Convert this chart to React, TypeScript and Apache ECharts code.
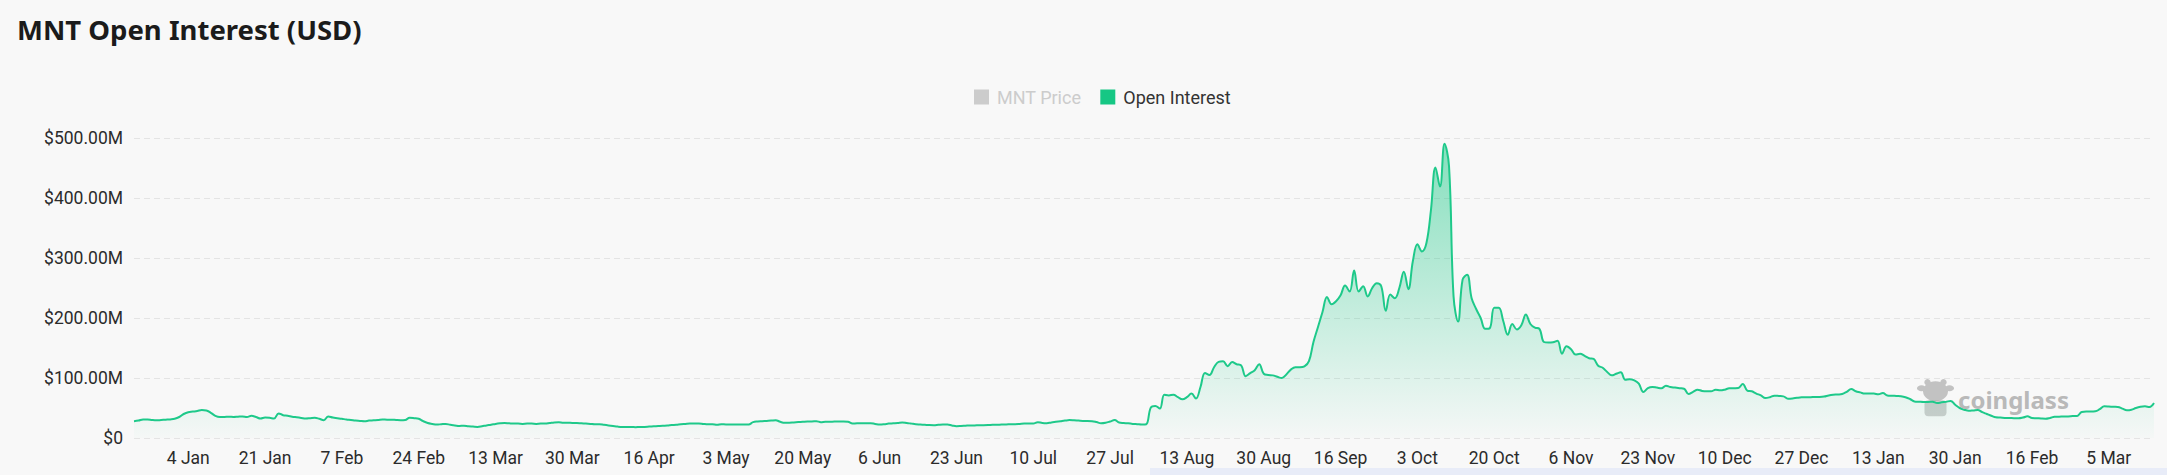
import React, { useEffect, useRef } from 'react';
import * as echarts from 'echarts';

// first category date (daily data)
const START_DATE = '2024-12-23';

// Open interest, in millions of USD, one value per day from START_DATE
const OPEN_INTEREST_M: number[] = [
  28, 29, 31, 31, 30, 29.5, 30, 30.5, 31, 32, 35, 40,
  43, 44, 45, 46.5, 46, 42, 37, 35, 35, 35.5,
  35, 35.5, 36, 35, 37, 35, 32.5, 34, 33.6, 32.5,
  41, 38, 37, 35.5, 34.5, 33.5, 32.5, 33, 33.6, 32,
  29.7, 36, 34, 33, 32, 30.8, 30, 29, 28.5, 28,
  29, 29.5, 30, 30.8, 30.5, 30.5, 30, 29.7, 30, 33.6,
  33, 32, 28, 25, 23.5, 22.4, 23, 23.5, 22, 21,
  20, 20.5, 19.5, 19, 18.5, 19.5, 21, 22, 23.5, 24.5,
  25, 24.5, 24, 24, 23.5, 24, 24, 23.5, 24, 24,
  25, 26, 26.3, 25.5, 25.5, 25, 25, 24.5, 24, 23.5,
  23, 23, 22, 21, 20, 19, 18.5, 18.5, 18.5, 18,
  18.5, 18.5, 19, 19.5, 20, 20.5, 20.7, 21.5, 22, 23,
  23.5, 24, 24, 24.2, 23.5, 23, 23, 22, 23, 22.5,
  22.5, 22.5, 22.5, 22.5, 22.5, 26.4, 27.5, 28, 28.5, 29,
  29.7, 27, 25.3, 25.5, 26, 26.5, 27, 27.5, 27.5, 28,
  26.4, 27, 27, 27.5, 27.5, 27.5, 27, 24.2, 24.5, 24.5,
  24.7, 24.7, 23.5, 22.5, 23, 24, 24.5, 25, 25.8, 25,
  24, 23, 22.5, 22, 21.5, 21.4, 22, 22.5, 22.5, 21,
  19.7, 20, 20.5, 21, 21, 21.4, 21.4, 21.5, 22, 22,
  22.5, 22.5, 23, 23, 23.5, 24, 24, 24.2, 26.4, 25,
  24.7, 26, 27, 28, 29, 29.8, 29.5, 29, 28.5, 28.5,
  28, 26.5, 24.7, 25.5, 27.5, 29.8, 25.8, 25, 24.5, 23.5,
  23, 22.5, 23, 50.6, 53.4, 49, 72, 71, 72, 68,
  64.6, 68, 74, 65.8, 85, 108.5, 105, 118, 127, 128,
  119.7, 126.5, 123, 121, 103, 108, 113, 123, 107, 105,
  104.4, 102, 100, 106, 114, 118, 118, 119.4, 128, 160,
  185, 210, 235, 223, 228, 238, 254, 244, 279, 244,
  253, 236, 250, 258, 253, 212, 239, 233, 250, 277,
  248, 295, 323, 311, 325, 380, 451, 419, 490.5, 453,
  236, 194, 264, 272, 233, 215, 200, 182, 183, 217,
  217, 195, 172, 190, 181, 188, 206, 190, 184, 182,
  160, 159, 159.5, 162, 140.5, 152.8, 148, 139, 140.5, 137,
  133, 131.7, 120.5, 117, 110, 104.4, 107, 109.4, 97, 98,
  96, 90.5, 76.7, 83, 85, 84, 82.8, 87.2, 85, 84,
  83, 82.2, 73.3, 77, 80.5, 78.5, 77.8, 77.8, 80.5, 79.4,
  80.5, 82.8, 83, 83.3, 90, 79, 77.8, 74, 71, 66.7,
  68, 70.5, 70, 69.4, 65.6, 66, 67, 67.8, 68, 68,
  68.5, 68.5, 69, 71, 72.2, 72.5, 73.3, 77, 81.7, 78,
  76, 74, 74, 74, 72.8, 75, 71, 70.5, 70, 69.5,
  68, 65, 61, 60.5, 60, 60, 60.5, 58.3, 59.4, 60.5,
  61.7, 55.5, 50, 47.2, 45.5, 46, 46.7, 43, 40, 37,
  34.4, 34, 33.5, 33.3, 33, 32.8, 34, 36.1, 33.3, 33,
  32.5, 32.2, 33.5, 35.5, 35.5, 36, 36, 36.5, 36.7, 43.3,
  44, 44, 44.4, 48, 52.8, 52.5, 52, 51.7, 49, 46.1,
  47, 50, 52, 52.8, 51.7, 58.3,
];

// hidden (legend-deselected) series
const MNT_PRICE: number[] = [];

// y axis ticks in millions of USD
const Y_MIN = 0;
const Y_MAX = 500;
const Y_STEP = 100;

// x axis label cadence: first label at index 12 (4 Jan), then every 17 days
const FIRST_LABEL_INDEX = 12;
const LABEL_STEP = 17;

const MONTHS = ['Jan', 'Feb', 'Mar', 'Apr', 'May', 'Jun', 'Jul', 'Aug', 'Sep', 'Oct', 'Nov', 'Dec'];

function buildDates(start: string, n: number): string[] {
  const base = new Date(start + 'T00:00:00Z').getTime();
  const out: string[] = [];
  for (let i = 0; i < n; i++) {
    out.push(new Date(base + i * 86400000).toISOString().slice(0, 10));
  }
  return out;
}

const LABEL_FONT = 'Roboto';

export default function App() {
  const ref = useRef<HTMLDivElement>(null);

  useEffect(() => {
    if (!ref.current) return;
    const chart = echarts.init(ref.current, undefined, { renderer: 'svg' });
    const dates = buildDates(START_DATE, OPEN_INTEREST_M.length);

    chart.setOption({
      animation: false,
      backgroundColor: '#f8f8f8',
      title: {
        text: 'MNT Open Interest (USD)',
        left: 12,
        top: 10,
        textStyle: {
          fontFamily: 'Noto Sans',
          fontSize: 27.5,
          fontWeight: 'bold',
          color: '#1b1b1b',
        },
      },
      legend: {
        left: 969,
        top: 83,
        itemWidth: 15,
        itemHeight: 15,
        itemGap: 19,
        icon: 'rect',
        inactiveColor: '#cccccc',
        selected: { 'MNT Price': false },
        textStyle: {
          fontFamily: LABEL_FONT,
          fontSize: 18,
          color: '#333333',
          padding: [0, 0, 0, 3],
        },
        data: ['MNT Price', 'Open Interest'],
      },
      grid: {
        left: 134,
        right: 13,
        top: 138,
        bottom: 37,
        containLabel: false,
      },
      xAxis: {
        type: 'category',
        boundaryGap: false,
        data: dates,
        axisLine: { show: false },
        axisTick: { show: false },
        splitLine: { show: false },
        axisLabel: {
          interval: (index: number) =>
            index >= FIRST_LABEL_INDEX && (index - FIRST_LABEL_INDEX) % LABEL_STEP === 0,
          formatter: (v: string) => {
            const d = new Date(v + 'T00:00:00Z');
            return `${d.getUTCDate()} ${MONTHS[d.getUTCMonth()]}`;
          },
          margin: 11,
          fontFamily: LABEL_FONT,
          fontSize: 17.5,
          color: '#2b2b2b',
        },
      },
      yAxis: {
        type: 'value',
        min: Y_MIN,
        max: Y_MAX,
        interval: Y_STEP,
        axisLine: { show: false },
        axisTick: { show: false },
        axisLabel: {
          formatter: (v: number) => (v === 0 ? '$0' : `$${v.toFixed(2)}M`),
          margin: 11,
          fontFamily: LABEL_FONT,
          fontSize: 17.5,
          color: '#2b2b2b',
        },
        splitLine: {
          show: true,
          lineStyle: { color: '#e4e4e4', type: [6, 4], width: 1 },
        },
      },
      series: [
        {
          name: 'MNT Price',
          type: 'line',
          data: MNT_PRICE,
          showSymbol: false,
          itemStyle: { color: '#bdbdbd' },
        },
        {
          name: 'Open Interest',
          type: 'line',
          data: OPEN_INTEREST_M,
          smooth: 0.4,
          showSymbol: false,
          symbol: 'none',
          itemStyle: { color: '#16c784' },
          lineStyle: { color: '#1ec98a', width: 2 },
          areaStyle: {
            color: new echarts.graphic.LinearGradient(0, 0, 0, 1, [
              { offset: 0, color: 'rgba(22,199,132,0.72)' },
              { offset: 1, color: 'rgba(22,199,132,0.02)' },
            ]),
          },
          z: 3,
        },
      ],
      graphic: [
        {
          type: 'rect',
          left: 1150,
          top: 468,
          shape: { width: 1017, height: 7 },
          style: { fill: '#e8ecf8' },
          silent: true,
        },
        {
          type: 'group',
          left: 1917,
          top: 379,
          silent: true,
          z: 10,
          children: [
            { type: 'circle', shape: { cx: 9, cy: 3, r: 3.2 }, style: { fill: '#c2c2c2' } },
            { type: 'circle', shape: { cx: 25, cy: 3, r: 3.2 }, style: { fill: '#c2c2c2' } },
            { type: 'ellipse', shape: { cx: 3, cy: 9, rx: 4.5, ry: 3 }, style: { fill: '#c2c2c2' } },
            { type: 'ellipse', shape: { cx: 31, cy: 9, rx: 4.5, ry: 3 }, style: { fill: '#c2c2c2' } },
            { type: 'ellipse', shape: { cx: 17, cy: 12, rx: 12.5, ry: 10 }, style: { fill: '#c2c2c2' } },
            { type: 'rect', shape: { x: 6, y: 21, width: 22, height: 16, r: 4 }, style: { fill: 'rgba(170,170,170,0.55)' } },
          ],
        },
        {
          type: 'text',
          left: 1958,
          top: 387,
          silent: true,
          z: 10,
          style: {
            text: 'coinglass',
            font: 'bold 24px "Noto Sans"',
            fill: '#b9b9b9',
          },
        },
      ],
    });

    return () => chart.dispose();
  }, []);

  return (
    <div
      ref={ref}
      style={{ position: 'absolute', left: 0, top: 0, width: 2167, height: 475, background: '#f8f8f8' }}
    />
  );
}
